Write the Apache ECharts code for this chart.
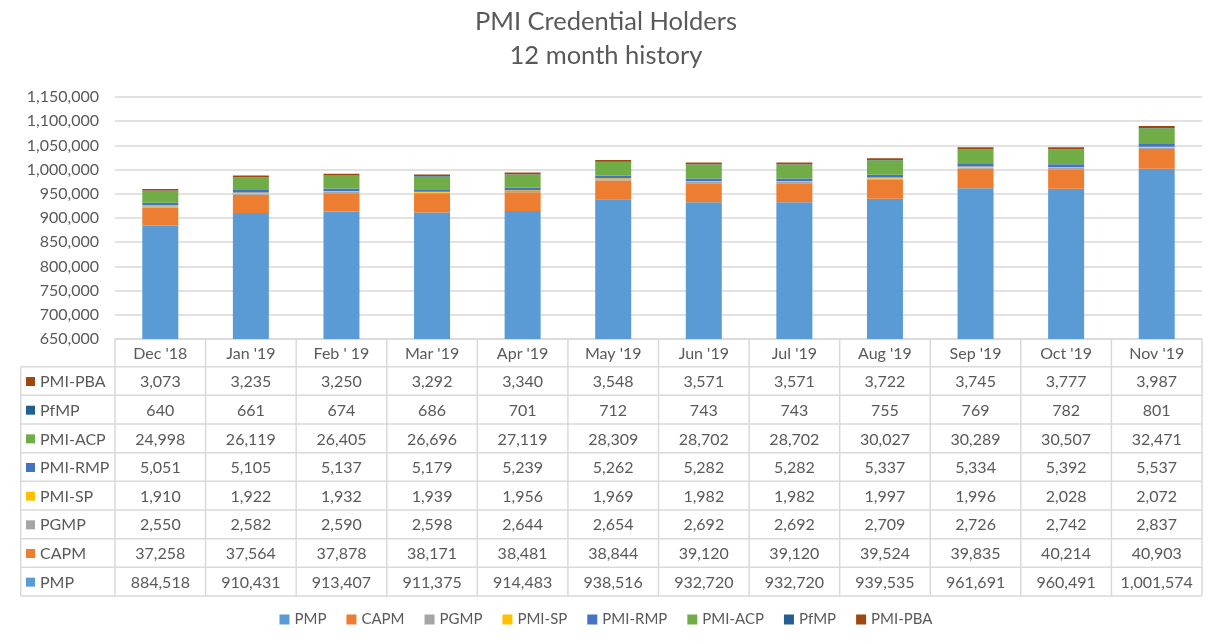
<!DOCTYPE html>
<html><head><meta charset="utf-8">
<script src="https://cdn.jsdelivr.net/npm/echarts@6/dist/echarts.min.js"></script>
<style>html,body{margin:0;padding:0;background:#fff}#c{width:1212px;height:644px}</style>
</head><body><div id="c"></div>
<script>
const categories = ["Dec '18","Jan '19","Feb ' 19","Mar '19","Apr '19","May '19","Jun '19","Jul '19","Aug '19","Sep '19","Oct '19","Nov '19"];
const PMP    = [884518,910431,913407,911375,914483,938516,932720,932720,939535,961691,960491,1001574];
const CAPM   = [37258,37564,37878,38171,38481,38844,39120,39120,39524,39835,40214,40903];
const PGMP   = [2550,2582,2590,2598,2644,2654,2692,2692,2709,2726,2742,2837];
const PMI_SP = [1910,1922,1932,1939,1956,1969,1982,1982,1997,1996,2028,2072];
const PMI_RMP= [5051,5105,5137,5179,5239,5262,5282,5282,5337,5334,5392,5537];
const PMI_ACP= [24998,26119,26405,26696,27119,28309,28702,28702,30027,30289,30507,32471];
const PfMP   = [640,661,674,686,701,712,743,743,755,769,782,801];
const PMI_PBA= [3073,3235,3250,3292,3340,3548,3571,3571,3722,3745,3777,3987];
const seriesNames = ["PMP","CAPM","PGMP","PMI-SP","PMI-RMP","PMI-ACP","PfMP","PMI-PBA"];
const seriesData  = [PMP,CAPM,PGMP,PMI_SP,PMI_RMP,PMI_ACP,PfMP,PMI_PBA];
const seriesColors = ["#5B9BD5","#ED7D31","#A5A5A5","#FFC000","#4472C4","#70AD47","#255E91","#9E480E"];

const FONT = "Lato, 'Open Sans', sans-serif";
const TXT = "#595959";
const LINE = "#D9D9D9";

const chart = echarts.init(document.getElementById('c'));
const option = {
  animation:false,
  backgroundColor:'#fff',
  title:{
    text:"PMI Credential Holders\n12 month history",
    left:'center', top:0,
    textStyle:{fontFamily:FONT,fontSize:25.5,fontWeight:'normal',color:TXT,lineHeight:34}
  },
  legend:{
    data:seriesNames, bottom:12, left:'center',
    icon:'rect', itemWidth:10, itemHeight:10, itemGap:20,
    textStyle:{fontFamily:FONT,fontSize:15,color:TXT}
  },
  grid:{left:115,right:10,top:97,bottom:305},
  xAxis:{
    type:'category', data:categories,
    axisLine:{lineStyle:{color:LINE,width:1.5}},
    axisTick:{show:false}, axisLabel:{show:false}
  },
  yAxis:{
    type:'value', min:650000, max:1150000, interval:50000,
    axisLine:{show:false}, axisTick:{show:false},
    splitLine:{lineStyle:{color:LINE,width:1.5}},
    axisLabel:{fontFamily:FONT,fontSize:16,color:TXT,margin:16,
      formatter:v=>v.toLocaleString('en-US')}
  },
  series: seriesNames.map((n,i)=>({
    name:n, type:'bar', stack:'total', data:seriesData[i], barWidth:36,
    itemStyle:{color:seriesColors[i]}
  }))
};
chart.setOption(option);

// Build the data table below the plot
const x0 = chart.convertToPixel({xAxisIndex:0},0);
const x1 = chart.convertToPixel({xAxisIndex:0},1);
const band = x1 - x0;
const leftEdge = x0 - band/2;
const rightEdge = leftEdge + band*categories.length;
const yAxisBottom = chart.convertToPixel({yAxisIndex:0},650000);
const headerBottom = 366.7;
const rowH = 28.66;
const tableLeft = 20.7;
const rowOrder = [7,6,5,4,3,2,1,0];
const tableBottom = headerBottom + rowH*rowOrder.length;
const g = [];
const ln = (a,b,c,d)=>g.push({type:'line',silent:true,shape:{x1:a,y1:b,x2:c,y2:d},style:{stroke:LINE,lineWidth:1.5}});
for(let k=0;k<=categories.length;k++){ ln(leftEdge+band*k,yAxisBottom,leftEdge+band*k,tableBottom); }
ln(tableLeft,headerBottom,tableLeft,tableBottom);
for(let r=0;r<=rowOrder.length;r++){ ln(tableLeft,headerBottom+rowH*r,rightEdge,headerBottom+rowH*r); }
categories.forEach((c,k)=>{
  g.push({type:'text',silent:true,x:leftEdge+band*(k+0.5),y:(yAxisBottom+headerBottom)/2+1,
    style:{text:c,font:'16px '+FONT,fill:TXT,align:'center',verticalAlign:'middle'}});
});
rowOrder.forEach((si,r)=>{
  const yc = headerBottom + rowH*(r+0.5) + 1;
  g.push({type:'rect',silent:true,shape:{x:26,y:yc-5,width:9,height:9},style:{fill:seriesColors[si]}});
  g.push({type:'text',silent:true,x:40,y:yc,style:{text:seriesNames[si],font:'16px '+FONT,fill:TXT,align:'left',verticalAlign:'middle'}});
  seriesData[si].forEach((v,k)=>{
    g.push({type:'text',silent:true,x:leftEdge+band*(k+0.5),y:yc,
      style:{text:v.toLocaleString('en-US'),font:'16px '+FONT,fill:TXT,align:'center',verticalAlign:'middle'}});
  });
});
chart.setOption({graphic:g});
</script></body></html>
